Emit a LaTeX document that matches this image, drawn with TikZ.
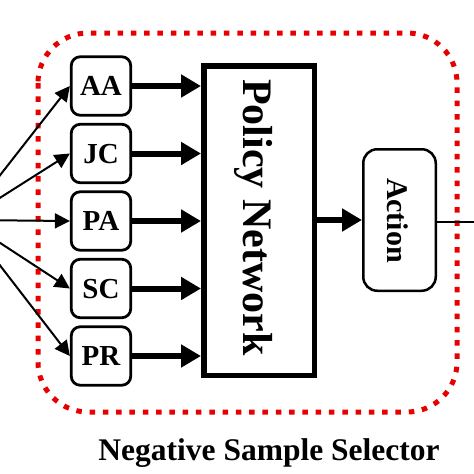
\documentclass[tikz,border=0pt]{standalone}
\usepackage{fontspec}
\setmainfont{Liberation Serif}
\usetikzlibrary{arrows.meta}
\definecolor{dotred}{RGB}{232,0,0}
\tikzset{
  featbox/.style={draw, line width=2.8pt, rounded corners=9pt, minimum width=59.5pt, minimum height=58.5pt, inner sep=0pt, font=\fontsize{29}{29}\selectfont\bfseries, text height=19pt, text depth=0pt},
  thinarrow/.style={line width=2pt, -{Triangle[length=15pt,width=15pt]}},
  thickarrow/.style={line width=6pt, -{Triangle[length=20pt,width=22pt]}},
  selector/.style={dotred, line width=5pt, dash pattern=on 5.5pt off 7.8pt, rounded corners=50pt}
}
\begin{document}
\begin{tikzpicture}[x=1pt,y=-1pt]
\useasboundingbox (0,0) rectangle (474,474);
\clip (0,0) rectangle (474,474);
\fill[white] (0,0) rectangle (474,474);
% selector boundary
\draw[selector] (38,33) rectangle (457,412);
% feature boxes
\node[featbox] (AA) at (101,86) {AA};
\node[featbox] (JC) at (101,153.5) {JC};
\node[featbox] (PA) at (101,221) {PA};
\node[featbox] (SC) at (101,288.5) {SC};
\node[featbox] (PR) at (101,356) {PR};
% policy network
\node[draw, line width=5.5pt, minimum width=110.5pt, minimum height=309.5pt, inner sep=0pt] (PN) at (259,220.5) {};
\node[rotate=-90, anchor=base, font=\fontsize{42}{42}\selectfont\bfseries, inner sep=0pt] (PNtext) at (243,217.5) {Policy Network};
% action
\node[draw, line width=2.5pt, rounded corners=14pt, minimum width=72.5pt, minimum height=141.5pt, inner sep=0pt] (ACT) at (399.5,220) {};
\node[rotate=-90, anchor=base, font=\fontsize{30}{30}\selectfont\bfseries, inner sep=0pt] (ACTtext) at (387,220.5) {Action};
% inputs
\coordinate (src) at (-35,220);
\coordinate (out) at (480,222);
\foreach \b in {AA,JC,PA,SC,PR} {
  \draw[thinarrow] (src) -- (\b.west);
  \draw[thickarrow] (\b.east) -- (\b.east -| PN.west);
}
\draw[thickarrow] (PN.east |- 0,220) -- (ACT.west |- 0,220);
\draw[line width=1.8pt] (ACT.east |- 0,222) -- (out);
% label
\node[anchor=base, font=\fontsize{31.5}{31.5}\selectfont\bfseries, inner sep=0pt] (label) at (269,460) {Negative Sample Selector};
\end{tikzpicture}
\end{document}
